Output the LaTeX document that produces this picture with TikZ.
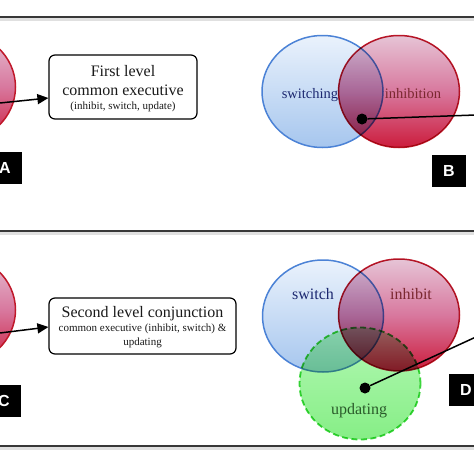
\documentclass[tikz,border=0pt]{standalone}
\usepackage{fontspec}
\setmainfont{Liberation Serif}
\newfontfamily\labelfont{Liberation Sans}
\usetikzlibrary{shapes.geometric,arrows.meta}
\definecolor{blueline}{HTML}{4B82D6}
\definecolor{bluetop}{HTML}{EAF2FC}
\definecolor{bluebot}{HTML}{A6C6EE}
\definecolor{redline}{HTML}{C0182A}
\definecolor{redtop}{HTML}{E6C4D6}
\definecolor{redmid}{HTML}{D8789E}
\definecolor{redbot}{HTML}{CC1C3C}
\definecolor{greenline}{HTML}{3CD63C}
\definecolor{greentop}{HTML}{B4F8B4}
\definecolor{greenbot}{HTML}{86EE86}
\definecolor{navytext}{HTML}{1C2870}
\definecolor{browntext}{HTML}{7A2830}
\definecolor{greentext}{HTML}{2A5A2A}
\definecolor{inktext}{HTML}{1A1A1A}
\begin{document}
\begin{tikzpicture}[x=1pt,y=-1pt,
  circbase/.style={ellipse, minimum width=121pt, minimum height=112pt, inner sep=0pt, line width=1.5pt},
  bluecirc/.style={circbase, draw=blueline, top color=bluetop, bottom color=bluebot},
  redcirc/.style={circbase, draw=redline, top color=redtop, bottom color=redbot, middle color=redmid},
  greencirc/.style={circbase, draw=greenline, line width=1.8pt, dash pattern=on 6pt off 3.5pt, top color=greentop, bottom color=greenbot},
  panelline/.style={draw=black!78, line width=1.3pt},
  panelshadow/.style={draw=black!12, line width=5pt},
  execbox/.style={draw=black, rounded corners=6pt, line width=1.2pt, inner sep=0pt, fill=white},
  paneltag/.style={fill=black, text=white, font=\labelfont\bfseries\fontsize{16}{16}\selectfont, minimum width=34pt, minimum height=32pt, inner sep=0pt},
  hubdot/.style={circle, fill=black, minimum size=11pt, inner sep=0pt},
  linkline/.style={line width=1.5pt, draw=black},
  arrowlink/.style={line width=1.5pt, draw=black, -{Triangle[length=11pt,width=10pt]}},
  bigtxt/.style={anchor=base, text=inktext, font=\fontsize{16}{19}\selectfont},
  smalltxt/.style={anchor=base, text=inktext, font=\fontsize{11}{13}\selectfont},
  circtxt/.style={anchor=base, font=\fontsize{14.5}{17}\selectfont},
  circtxtD/.style={anchor=base, font=\fontsize{16}{19}\selectfont}
]
\useasboundingbox (0,0) rectangle (474,474);
\fill[white] (0,0) rectangle (474,474);

% panel rules
\foreach \yy in {17,231,446} {
  \draw[panelshadow] (0,\yy+1) -- (474,\yy+1);
  \draw[panelline] (0,\yy) -- (474,\yy);
}

% ---------- Panel A ----------
\node[redcirc] (cA) at (-45,87) {};
\node[execbox, minimum width=148pt, minimum height=64pt] (boxA) at (123,87) {};
\node[bigtxt] (tA1) at (123,76) {First level};
\node[bigtxt] (tA2) at (123,95) {common executive};
\node[smalltxt] (tA3) at (123,109) {(inhibit, switch, update)};
\coordinate (startA) at (0,103);
\draw[arrowlink] (startA) -- ([yshift=-11pt]boxA.west);
\node[paneltag] (tagA) at (5,168) {A};

% ---------- Panel B ----------
\node[bluecirc] (sB) at (322.5,91.5) {};
\begin{scope}[blend mode=multiply]
\node[redcirc] (iB) at (399,91.5) {};
\end{scope}
\node[circtxt, text=navytext] (lsB) at (310,98) {switching};
\node[circtxt, text=browntext] (liB) at (413,98) {inhibition};
\node[hubdot] (dB) at (362,119) {};
\coordinate (endB) at (490,114.5);
\draw[linkline] (dB) -- (endB);
\node[paneltag] (tagB) at (449,170.5) {B};

% ---------- Panel C ----------
\node[redcirc] (cC) at (-45,310) {};
\node[execbox, minimum width=187pt, minimum height=56pt] (boxC) at (142.5,326) {};
\node[bigtxt] (tC1) at (142.5,317.5) {Second level conjunction};
\node[smalltxt] (tC2) at (142.5,331.5) {common executive (inhibit, switch) \&};
\node[smalltxt] (tC3) at (142.5,345.5) {updating};
\coordinate (startC) at (0,333);
\draw[arrowlink] (startC) -- ([yshift=-1pt]boxC.west);
\node[paneltag] (tagC) at (4,400.5) {C};

% ---------- Panel D ----------
\node[bluecirc] (sD) at (323,316) {};
\begin{scope}[blend mode=multiply]
\node[redcirc] (iD) at (399,315) {};
\node[greencirc] (uD) at (360,383.5) {};
\end{scope}
\node[circtxtD, text=navytext] (lsD) at (313,299) {switch};
\node[circtxtD, text=browntext] (liD) at (411,299) {inhibit};
\node[circtxtD, text=greentext] (luD) at (359,414) {updating};
\node[hubdot] (dD) at (365,388) {};
\coordinate (endD) at (490,330.5);
\draw[linkline] (dD) -- (endD);
\node[paneltag] (tagD) at (466,389.5) {D};
\end{tikzpicture}
\end{document}
